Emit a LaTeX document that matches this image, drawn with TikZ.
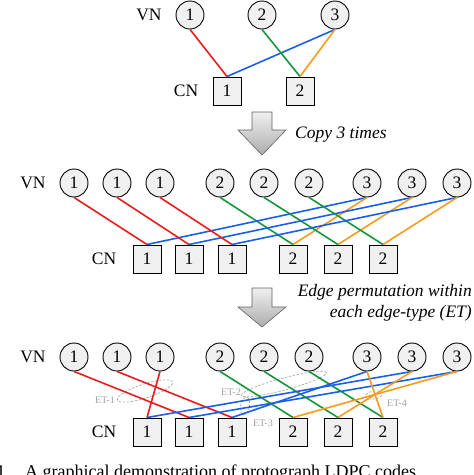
\documentclass[tikz,border=0pt]{standalone}
\usepackage{fontspec}
\setmainfont{Liberation Serif}
\definecolor{nodefill}{RGB}{240,240,240}
\definecolor{ered}{RGB}{232,28,28}
\definecolor{egreen}{RGB}{22,150,60}
\definecolor{eblue}{RGB}{25,95,232}
\definecolor{eorange}{RGB}{246,155,28}
\definecolor{etgray}{RGB}{160,160,160}
\begin{document}
\begin{tikzpicture}[x=1pt,y=-1pt,
  vn/.style={circle,draw,fill=nodefill,minimum size=28pt,inner sep=0pt,line width=0.9pt,font=\fontsize{17.5}{18}\selectfont},
  cn/.style={rectangle,draw,fill=nodefill,minimum size=28pt,inner sep=0pt,line width=1pt,font=\fontsize{17.5}{18}\selectfont},
  lbl/.style={font=\fontsize{17.5}{18}\selectfont,inner sep=0pt},
  note/.style={font=\fontsize{17.5}{21}\selectfont\itshape,inner sep=0pt},
  edge/.style={line width=1.6pt},
  er/.style={edge,ered}, eg/.style={edge,egreen}, eb/.style={edge,eblue}, eo/.style={edge,eorange},
  etring/.style={draw=etgray,dashed,line width=0.6pt,dash pattern=on 2.5pt off 1.5pt},
  etlabel/.style={text=etgray,font=\fontsize{10}{10}\selectfont,inner sep=0pt},
  blockarrow/.style={draw=gray!75!black,line width=0.6pt,top color=gray!12,bottom color=gray!65}
]
\useasboundingbox (0,0) rectangle (474,475);

% ---------- top protograph ----------
\node[lbl] (tvn) at (149,15) {VN};
\node[lbl] (tcn) at (186,91) {CN};
\node[vn] (t1) at (190,15) {1};
\node[vn] (t2) at (262,15) {2};
\node[vn] (t3) at (335,15) {3};
\node[cn] (ts1) at (227,91) {1};
\node[cn] (ts2) at (300,91) {2};
\draw[er] (t1.south) -- (ts1.north);
\draw[eb] (t3.south) -- (ts1.north);
\draw[eg] (t2.south) -- (ts2.north);
\draw[eo] (t3.south) -- (ts2.north);

% ---------- arrow 1 ----------
\path[blockarrow] (252,112) -- (272,112) -- (272,130) -- (286,130) -- (262,155) -- (238,130) -- (252,130) -- cycle;
\node[note,anchor=west] (copy) at (295,135) {Copy 3 times};

% ---------- middle (copied) ----------
\node[lbl] (mvn) at (33,183) {VN};
\node[lbl] (mcn) at (104,259) {CN};
\foreach \n/\x/\t in {m1a/74/1,m1b/117/1,m1c/160/1,m2a/220/2,m2b/264/2,m2c/309/2,m3a/367/3,m3b/412/3,m3c/457/3}
  \node[vn] (\n) at (\x,183) {\t};
\foreach \n/\x/\t in {mc1a/147/1,mc1b/189/1,mc1c/232/1,mc2a/293/2,mc2b/338/2,mc2c/383/2}
  \node[cn] (\n) at (\x,259) {\t};
\foreach \i in {a,b,c}{
  \draw[er] (m1\i.south) -- (mc1\i.north);
  \draw[eg] (m2\i.south) -- (mc2\i.north);
  \draw[eb] (m3\i.south) -- (mc1\i.north);
  \draw[eo] (m3\i.south) -- (mc2\i.north);
}

% ---------- arrow 2 ----------
\path[blockarrow] (252,288) -- (272,288) -- (272,307) -- (286,307) -- (262,327) -- (238,307) -- (252,307) -- cycle;
\node[note,anchor=north east,align=right] (perm) at (472,284) {Edge permutation within\\each edge-type (ET)};

% ---------- bottom (permuted) ----------
\draw[etring,rotate around={18:(145,391)}] (145,391) ellipse [x radius=29pt,y radius=7pt];
\draw[etring,rotate around={15:(284,384)}] (284,384) ellipse [x radius=44pt,y radius=6pt];
\draw[etring,rotate around={-10:(245,406)}] (245,406) ellipse [x radius=4.5pt,y radius=9pt];
\draw[etring,rotate around={10:(374,395)}] (374,395) ellipse [x radius=8.5pt,y radius=4pt];
\node[etlabel] (et1) at (105,400) {ET-1};
\node[etlabel] (et2) at (231,392) {ET-2};
\node[etlabel] (et3) at (263,423) {ET-3};
\node[etlabel] (et4) at (397,403) {ET-4};

\node[lbl] (bvn) at (33,357) {VN};
\node[lbl] (bcn) at (104,432) {CN};
\foreach \n/\x/\t in {b1a/74/1,b1b/117/1,b1c/160/1,b2a/220/2,b2b/264/2,b2c/309/2,b3a/367/3,b3b/412/3,b3c/457/3}
  \node[vn] (\n) at (\x,357) {\t};
\foreach \n/\x/\t in {bc1a/147/1,bc1b/189/1,bc1c/232/1,bc2a/293/2,bc2b/338/2,bc2c/383/2}
  \node[cn] (\n) at (\x,432) {\t};
% ET-1: red
\draw[er] (b1a.south) -- (bc1b.north);
\draw[er] (b1b.south) -- (bc1c.north);
\draw[er] (b1c.south) -- (bc1a.north);
% ET-2: green
\draw[eg] (b2a.south) -- (bc2a.north);
\draw[eg] (b2b.south) -- (bc2b.north);
\draw[eg] (b2c.south) -- (bc2c.north);
% ET-3: blue
\draw[eb] (b3a.south) -- (bc1c.north);
\draw[eb] (b3b.south) -- (bc1a.north);
\draw[eb] (b3c.south) -- (bc1b.north);
% ET-4: orange
\draw[eo] (b3a.south) -- (bc2c.north);
\draw[eo] (b3b.south) -- (bc2b.north);
\draw[eo] (b3c.south) -- (bc2a.north);

% ---------- caption (cut by the frame) ----------
\node[anchor=base east,font=\fontsize{18}{18}\selectfont,inner sep=0pt] (capnum) at (10,477) {1.};
\node[anchor=base west,font=\fontsize{18}{18}\selectfont,inner sep=0pt] (cap) at (25,477) {A graphical demonstration of protograph LDPC codes};
\end{tikzpicture}
\end{document}
